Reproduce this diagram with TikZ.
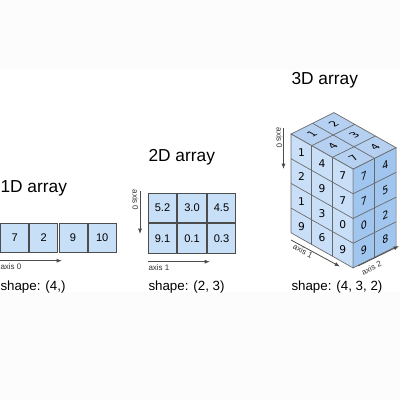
\documentclass[tikz,border=0pt]{standalone}
\usepackage{fontspec}
\setmainfont{Liberation Sans}
\newfontfamily\cubefont{DejaVu Sans}
\usetikzlibrary{arrows.meta}

\definecolor{cellblue}{RGB}{200,223,248}
\definecolor{cubefront}{RGB}{201,223,248}
\definecolor{cubetop}{RGB}{181,208,240}
\definecolor{cubeside}{RGB}{160,197,238}
\definecolor{edgegray}{RGB}{77,77,77}
\definecolor{paper}{RGB}{252,252,252}

\tikzset{every picture/.style={line width=0.75pt}}
\tikzset{
  title/.style={anchor=west,inner sep=0pt,font=\fontsize{13}{15}\selectfont},
  shapelabel/.style={anchor=west,inner sep=0pt,font=\fontsize{10}{12}\selectfont},
  cell/.style={draw=edgegray,fill=cellblue,inner sep=0pt,minimum width=21pt,minimum height=21.75pt,font=\fontsize{8.3}{10}\selectfont},
  bigcell/.style={cell,minimum width=21.4pt,minimum height=22.1pt},
  axislabel/.style={inner sep=0pt,font=\fontsize{6}{7}\selectfont,text=black!80},
  axisarrow/.style={draw=black!70,line width=0.6pt,-{Latex[length=4pt,width=3pt]}},
  cubeedge/.style={draw=edgegray!85,line width=0.5pt},
  cubenum/.style={inner sep=0pt,font=\cubefont\fontsize{8}{9}\selectfont},
  topnum/.style={cubenum,cm={0.894,0.447,-0.871,0.492,(0,0)}},
  sidenum/.style={cubenum,cm={0.894,0.447,0,1,(0,0)}},
}

\begin{document}
\begin{tikzpicture}[x=0.75pt,y=0.75pt,yscale=-1,xscale=1]
\useasboundingbox (0,0) rectangle (400,400);
%Background
\fill [paper] (0,0) rectangle (400,400);
\fill [white] (0,70) rectangle (400,292);

% Text Node
\node[title] (t1d) at (0,188) {1D array};
% Text Node
\node[title] (t2d) at (148,157) {2D array};
% Text Node
\node[title] (t3d) at (291,80) {3D array};

%1D cells
\node[cell] (a0) at (14.6,237.5) {7};
\node[cell] (a1) at (43.8,237.5) {2};
\node[cell] (a2) at (73,237.5) {9};
\node[cell] (a3) at (102.2,237.5) {10};

%2D cells
\node[bigcell] (b00) at (162.5,208) {5.2};
\node[bigcell] (b01) at (192,208) {3.0};
\node[bigcell] (b02) at (221.5,208) {4.5};
\node[bigcell] (b10) at (162.5,238.5) {9.1};
\node[bigcell] (b11) at (192,238.5) {0.1};
\node[bigcell] (b12) at (221.5,238.5) {0.3};

%Axis arrows 1D
\coordinate (x1s) at (0,260.7);
\coordinate (x1e) at (62,260.7);
\draw [axisarrow] (x1s) -- (x1e);
\node[axislabel,anchor=north west] (x1l) at (0,263) {axis 0};

%Axis arrows 2D
\coordinate (y2s) at (140,191);
\coordinate (y2e) at (140,234);
\draw [axisarrow] (y2s) -- (y2e);
\node[axislabel,rotate=-90] (y2l) at (135.5,200) {axis 0};
\coordinate (x2s) at (148,261.7);
\coordinate (x2e) at (210,261.7);
\draw [axisarrow] (x2s) -- (x2e);
\node[axislabel,anchor=north west] (x2l) at (148,264) {axis 1};

%Shape: Cube top face
\draw [cubeedge,fill=cubetop] (291,134) -- (353.1,169.1) -- (396.1,147.7) -- (334,112.6) -- cycle;
\draw [cubeedge] (311.7,145.7) -- (354.7,124.3);
\draw [cubeedge] (332.4,157.4) -- (375.4,136);
\draw [cubeedge] (312.5,123.3) -- (374.6,158.4);
%Shape: Cube front face
\draw [cubeedge,fill=cubefront] (291,134) -- (353.1,169.1) -- (353.1,267.9) -- (291,232.8) -- cycle;
\draw [cubeedge] (311.7,145.7) -- (311.7,244.5);
\draw [cubeedge] (332.4,157.4) -- (332.4,256.2);
\draw [cubeedge] (291,158.7) -- (353.1,193.8);
\draw [cubeedge] (291,183.4) -- (353.1,218.5);
\draw [cubeedge] (291,208.1) -- (353.1,243.2);
%Shape: Cube side face
\draw [cubeedge,fill=cubeside] (353.1,169.1) -- (396.1,147.7) -- (396.1,246.5) -- (353.1,267.9) -- cycle;
\draw [cubeedge] (374.6,158.4) -- (374.6,257.2);
\draw [cubeedge] (353.1,193.8) -- (396.1,172.4);
\draw [cubeedge] (353.1,218.5) -- (396.1,197.1);
\draw [cubeedge] (353.1,243.2) -- (396.1,221.8);

%Top face numbers
\node[topnum] (p00) at (312.1,134.5) {1};
\node[topnum] (p01) at (333.6,123.8) {2};
\node[topnum] (p10) at (332.8,146.2) {4};
\node[topnum] (p11) at (354.3,135.5) {3};
\node[topnum] (p20) at (353.5,157.9) {7};
\node[topnum] (p21) at (375,147.2) {4};
%Front face numbers
\node[cubenum] (f00) at (301.4,152.2) {1};
\node[cubenum] (f01) at (322.1,163.9) {4};
\node[cubenum] (f02) at (342.8,175.6) {7};
\node[cubenum] (f10) at (301.4,176.9) {2};
\node[cubenum] (f11) at (322.1,188.6) {9};
\node[cubenum] (f12) at (342.8,200.3) {7};
\node[cubenum] (f20) at (301.4,201.6) {1};
\node[cubenum] (f21) at (322.1,213.3) {3};
\node[cubenum] (f22) at (342.8,225) {0};
\node[cubenum] (f30) at (301.4,226.3) {9};
\node[cubenum] (f31) at (322.1,238) {6};
\node[cubenum] (f32) at (342.8,249.7) {9};
%Side face numbers
\node[sidenum] (s00) at (363.9,176.1) {7};
\node[sidenum] (s10) at (363.9,200.8) {7};
\node[sidenum] (s20) at (363.9,225.5) {0};
\node[sidenum] (s30) at (363.9,250.2) {9};
\node[sidenum] (s01) at (385.4,165.4) {4};
\node[sidenum] (s11) at (385.4,190.1) {5};
\node[sidenum] (s21) at (385.4,214.8) {2};
\node[sidenum] (s31) at (385.4,239.5) {8};

%Axis arrows 3D
\coordinate (z3s) at (283.5,128);
\coordinate (z3e) at (283.5,169);
\draw [axisarrow] (z3s) -- (z3e);
\node[axislabel,rotate=-90] (z3l) at (279.5,138) {axis 0};
\coordinate (u3s) at (291,240);
\coordinate (u3e) at (340,266.5);
\draw [axisarrow] (u3s) -- (u3e);
\node[axislabel,rotate=-28.5] (u3l) at (303,251) {axis 1};
\coordinate (v3s) at (358,266);
\coordinate (v3e) at (399,246);
\draw [axisarrow] (v3s) -- (v3e);
\node[axislabel,rotate=26] (v3l) at (371.5,268) {axis 2};

% Text Node
\node[shapelabel] (s1d) at (0,287) {shape: (4,)};
% Text Node
\node[shapelabel] (s2d) at (148,287) {shape: (2, 3)};
% Text Node
\node[shapelabel] (s3d) at (291,287) {shape: (4, 3, 2)};

\end{tikzpicture}
\end{document}
